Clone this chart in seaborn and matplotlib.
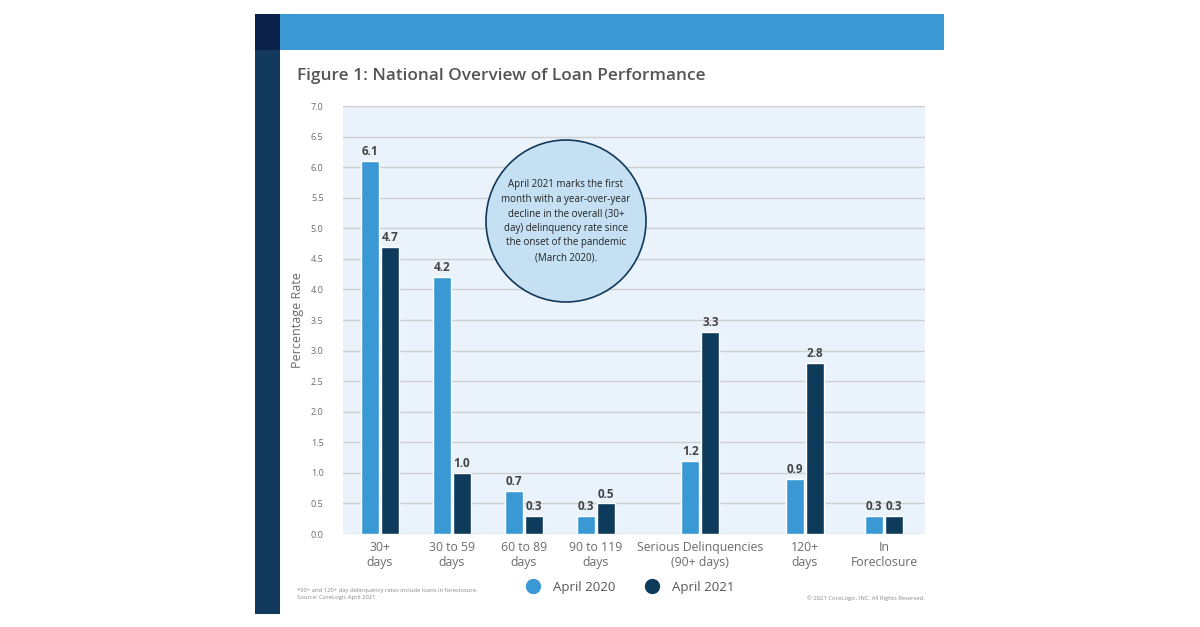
import matplotlib.pyplot as plt
import matplotlib.patches as mpatches
from matplotlib.lines import Line2D
import numpy as np
import pandas as pd
import seaborn as sns

categories = ['30+\ndays', '30 to 59\ndays', '60 to 89\ndays', '90 to 119\ndays',
              'Serious Delinquencies\n(90+ days)', '120+\ndays', 'In\nForeclosure']
april_2020 = [6.1, 4.2, 0.7, 0.3, 1.2, 0.9, 0.3]
april_2021 = [4.7, 1.0, 0.3, 0.5, 3.3, 2.8, 0.3]
series = ['April 2020', 'April 2021']
yticks = [0.0, 0.5, 1.0, 1.5, 2.0, 2.5, 3.0, 3.5, 4.0, 4.5, 5.0, 5.5, 6.0, 6.5, 7.0]

# slot spacing between groups (the wide label gets more room)
steps = [0, 1, 1, 1, 1.45, 1.45, 1.1]
pos = np.cumsum(steps)

df = pd.DataFrame({
    'x': list(pos) * 2,
    'rate': april_2020 + april_2021,
    'period': [series[0]] * len(categories) + [series[1]] * len(categories),
})

light = '#3a98d4'
dark = '#0e3a5c'
gray = '#6b6b6b'

sns.set_style('white')
plt.rcParams['font.family'] = ['Open Sans', 'DejaVu Sans']

fig = plt.figure(figsize=(12, 6.27), dpi=100)
W, H = 1200, 627


def px_rect(x0, y0, x1, y1, color):
    fig.add_artist(mpatches.Rectangle((x0 / W, 1 - y1 / H), (x1 - x0) / W, (y1 - y0) / H,
                                      transform=fig.transFigure, color=color, lw=0, zorder=0))


# card decorations
px_rect(255, 14, 280, 614, '#123a5c')
px_rect(255, 14, 280, 50, '#0a2249')
px_rect(280, 14, 944, 50, '#3a98d4')

fig.text(297 / W, 1 - 76 / H, 'Figure 1: National Overview of Loan Performance',
         fontsize=12.4, fontweight='semibold', color='#555555', va='center', ha='left')

ax = fig.add_axes([343 / W, 1 - 534 / H, (925 - 343) / W, (534 - 106) / H])
ax.set_facecolor('#eaf3fb')
sns.barplot(data=df, x='x', y='rate', hue='period', native_scale=True,
            palette=[light, dark], saturation=1, width=0.56, gap=0.1, ax=ax,
            legend=False, zorder=3)

for cont in ax.containers:
    ax.bar_label(cont, fmt='%.1f', fontsize=8.5, fontweight='bold', color='#444444', padding=2)

ax.set_xlim(pos[0] - 0.51, pos[-1] + 0.57)
ax.set_xticks(pos)
ax.set_xticklabels(categories)
ax.set_ylim(0, 7)
ax.set_yticks(yticks)
ax.set_yticklabels([f'{v:.1f}' for v in yticks])
ax.grid(axis='y', color='#cfcfcf', lw=1, zorder=0)
ax.grid(axis='x', visible=False)
ax.set_axisbelow(True)
for s in ax.spines.values():
    s.set_visible(False)
ax.tick_params(axis='y', labelsize=6.5, labelcolor=gray, length=0, pad=14)
ax.tick_params(axis='x', labelsize=8.8, labelcolor=gray, length=0, pad=5)
ax.set_xlabel('')
ax.set_ylabel('Percentage Rate', fontsize=9, color=gray, labelpad=5)

# callout circle
fig.add_artist(mpatches.Ellipse((566 / W, 1 - 221 / H), 160 / W, 162 / H,
                                transform=fig.transFigure, facecolor='#c5e0f3',
                                edgecolor='#12385a', lw=1.2, zorder=5))
fig.text(566 / W, 1 - 221 / H,
         'April 2021 marks the first\nmonth with a year-over-year\ndecline in the overall (30+\n'
         'day) delinquency rate since\nthe onset of the pandemic\n(March 2020).',
         ha='center', va='center', fontsize=7, color='#222222', linespacing=1.45, zorder=6)

handles = [Line2D([], [], marker='o', ls='', color=c, markersize=10) for c in (light, dark)]
fig.legend(handles, series, loc='center', bbox_to_anchor=(627 / W, 1 - 587 / H), ncol=2,
           frameon=False, fontsize=9.5, labelcolor='#555555', handletextpad=0.5,
           columnspacing=1.8)

fig.text(297 / W, 1 - 594 / H,
         '*90+ and 120+ day delinquency rates include loans in foreclosure.\nSource: CoreLogic April 2021',
         fontsize=4.2, color='#888888', ha='left', va='center', linespacing=1.4)
fig.text(925 / W, 1 - 598 / H, '© 2021 CoreLogic, INC. All Rights Reserved.',
         fontsize=4.2, color='#888888', ha='right', va='center')

fig.savefig('out.png', dpi=100, facecolor='white')
